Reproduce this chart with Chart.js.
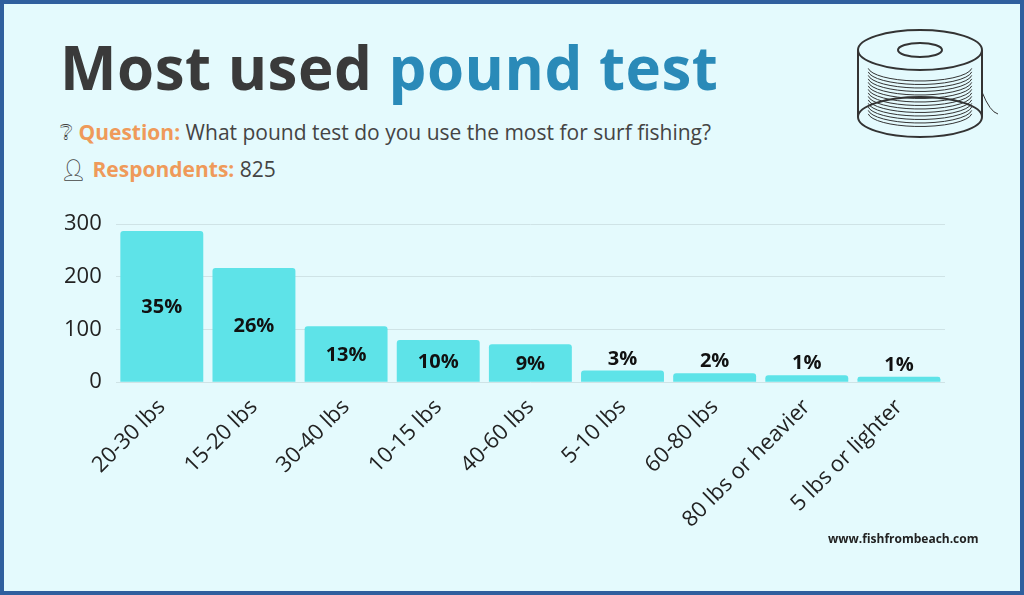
<!DOCTYPE html>
<html>
<head>
<meta charset="utf-8">
<script src="https://cdn.jsdelivr.net/npm/chart.js@4/dist/chart.umd.min.js"></script>
<style>
  body { margin: 0; width: 1024px; height: 595px; overflow: hidden; font-family: "Open Sans", sans-serif; }
  .frame { position: absolute; left: 0; top: 0; width: 1016px; height: 587px; border: 4px solid #2f5f9e; background: #e4fafd; }
  h1 { position: absolute; left: 60px; top: 26px; margin: 0; font-size: 60px; font-weight: 700; color: #3a3a3a; letter-spacing: 0.5px; }
  h1 span { color: #2a8ab8; }
  .line { position: absolute; left: 60px; font-size: 21px; color: #444; }
  .line b { color: #ef9a5a; }
  .site { position: absolute; left: 828px; top: 530px; font-size: 12px; font-weight: 700; color: #222; }
  #wrap { position: absolute; left: 50px; top: 197px; width: 895px; height: 340px; }
  #spool { position: absolute; left: 850px; top: 22px; }
</style>
</head>
<body>
<div class="frame"></div>
<h1>Most used <span>pound test</span></h1>
<div class="line" style="top:118px">&#x2754;&#xFE0E; <b>Question:</b> What pound test do you use the most for surf fishing?</div>
<div class="line" style="top:155px">&#x1F464;&#xFE0E; <b>Respondents:</b> 825</div>
<canvas id="spool" width="150" height="120"></canvas>
<div id="wrap"><canvas id="myChart"></canvas></div>
<div class="site">www.fishfrombeach.com</div>
<script>
const categorias = ['20-30 lbs', '15-20 lbs', '30-40 lbs', '10-15 lbs', '40-60 lbs', '5-10 lbs', '60-80 lbs', '80 lbs or heavier', '5 lbs or lighter'];
const valores = [287, 217, 106, 80, 72, 22, 17, 13, 10];
const percentuais = ['35%', '26%', '13%', '10%', '9%', '3%', '2%', '1%', '1%'];
const ticksY = [0, 100, 200, 300];

Chart.defaults.font.family = '"Open Sans", sans-serif';

// carretel simples
const s = document.getElementById('spool').getContext('2d');
s.strokeStyle = '#333'; s.lineWidth = 2;
function elipse(x, y, rx, ry) { s.beginPath(); s.ellipse(x, y, rx, ry, 0, 0, Math.PI * 2); s.stroke(); }
elipse(70, 28, 62, 20); elipse(70, 28, 22, 7); elipse(70, 95, 62, 20);
s.beginPath(); s.moveTo(8, 28); s.lineTo(8, 95); s.moveTo(132, 28); s.lineTo(132, 95); s.stroke();
s.lineWidth = 1;
for (let i = 0; i < 14; i++) { s.beginPath(); s.ellipse(70, 45 + i * 3.5, 52, 14, 0, 0.1, Math.PI - 0.1); s.stroke(); }
s.beginPath(); s.moveTo(132, 70); s.quadraticCurveTo(140, 90, 148, 92); s.stroke();

const rotulos = {
    id: 'rotulos',
    afterDatasetsDraw(chart) {
        const ctx = chart.ctx;
        ctx.save();
        ctx.font = 'bold 20px "Open Sans", sans-serif';
        ctx.fillStyle = '#111';
        ctx.textAlign = 'center';
        chart.getDatasetMeta(0).data.forEach(function (bar, i) {
            let y;
            if (valores[i] > 50) { y = (bar.y + bar.base) / 2 + 7; }
            else { y = bar.y - 6; }
            ctx.fillText(percentuais[i], bar.x, y);
        });
        ctx.restore();
    }
};

new Chart(document.getElementById('myChart'), {
    type: 'bar',
    data: {
        labels: categorias,
        datasets: [{
            data: valores,
            backgroundColor: '#5ee3e8',
            borderRadius: 3,
            barPercentage: 0.9,
            categoryPercentage: 1.0
        }]
    },
    options: {
        animation: false,
        maintainAspectRatio: false,
        plugins: { legend: { display: false }, tooltip: { enabled: false } },
        layout: { padding: { top: 16, right: 0 } },
        scales: {
            y: {
                min: 0, max: 300,
                afterBuildTicks: function (axis) { axis.ticks = ticksY.map(v => ({ value: v })); },
                ticks: { color: '#222', font: { size: 22 }, padding: 14 },
                grid: { color: '#cfe3e6', drawTicks: false },
                border: { display: false }
            },
            x: {
                ticks: { color: '#222', font: { size: 22 }, maxRotation: 45, minRotation: 45, padding: 4 },
                grid: { display: false },
                border: { display: false }
            }
        }
    },
    plugins: [rotulos]
});
</script>
</body>
</html>
